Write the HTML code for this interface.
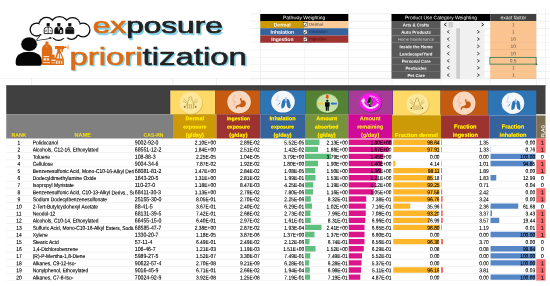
<!DOCTYPE html>
<html lang="en"><head><meta charset="utf-8"><title>exposure prioritization</title>
<style>
html,body{margin:0;padding:0;background:#fff;}
body{width:550px !important;height:286px !important;} #sheet{transform:scale(0.25);transform-origin:0 0;filter:blur(1.0px);}
body{overflow:hidden;position:relative;font-family:"Liberation Sans",sans-serif;}
#sheet{position:absolute;left:0;top:0;width:2200px;height:1144px;overflow:hidden;background:#fff;}
#sheet div{position:absolute;white-space:nowrap;overflow:hidden;}
.abs{position:absolute;overflow:visible;}
.c{text-align:center;} .l{text-align:left;} .w{color:#fff;} .b{font-weight:bold;}
.hd span,.pw span,.pw2 span,.cat span,.val span{display:inline-block;transform:rotate(0.15deg);}
.hd{font-size:19.8px;line-height:28.8px;}
.pw{font-size:20px;line-height:30.8px;}
.pw2{font-size:16.8px;line-height:28.4px;} .pw2 span{padding-left:19.2px;}
.cat{font-size:17.2px;line-height:32px;}
.val{font-size:19.6px;line-height:29.2px;color:#4a4a55;}
.colh{text-align:center;font-weight:bold;font-size:20.6px;line-height:32.8px;}
.colh span{transform:rotate(0.15deg);position:absolute;left:0;right:0;bottom:-2.8px;text-shadow:0 0 1.4px currentColor;}
.colh i{font-style:normal;}
.colh.big{font-size:22.8px;line-height:33.2px;}
.flagt{left:2153.2px;top:496px;width:37.2px;height:54px;color:#fff;font-weight:bold;font-size:18.4px;line-height:37.2px;writing-mode:vertical-rl;transform:rotate(180.15deg);text-align:left;}
.rh{transform:rotate(0.15deg);top:525.6px;height:28.4px;line-height:28.4px;color:#ffe600;font-weight:bold;font-size:20.6px;}
.d{transform:rotate(0.15deg) scaleY(1.14);height:28.4px;line-height:32.8px;font-size:19.6px;color:#0a0a0a;text-shadow:0 0 1.2px rgba(0,0,0,0.55);}
.d.cs{font-size:20.8px;}
</style></head>
<body><div id="sheet">
<div id="grid" style="left:0;top:0;width:2200px;height:1144px">
<div style="left:1000px;top:53.8px;width:1200px;height:2.8px;background:#ececec;"></div>
<div style="left:1000px;top:82.76px;width:1200px;height:2.8px;background:#ececec;"></div>
<div style="left:1000px;top:111.72px;width:1200px;height:2.8px;background:#ececec;"></div>
<div style="left:1000px;top:140.68px;width:1200px;height:2.8px;background:#ececec;"></div>
<div style="left:1000px;top:169.64px;width:1200px;height:2.8px;background:#ececec;"></div>
<div style="left:1000px;top:198.6px;width:1200px;height:2.8px;background:#ececec;"></div>
<div style="left:1000px;top:227.56px;width:1200px;height:2.8px;background:#ececec;"></div>
<div style="left:1000px;top:256.52px;width:1200px;height:2.8px;background:#ececec;"></div>
<div style="left:1000px;top:285.48px;width:1200px;height:2.8px;background:#ececec;"></div>
<div style="left:1000px;top:314.44px;width:1200px;height:2.8px;background:#ececec;"></div>
<div style="left:0px;top:311.2px;width:2200px;height:2.8px;background:#ececec;"></div>
<div style="left:1039.8px;top:36px;width:2.8px;height:308px;background:#ececec;"></div>
<div style="left:1216.6px;top:36px;width:2.8px;height:308px;background:#ececec;"></div>
<div style="left:1391.8px;top:36px;width:2.8px;height:308px;background:#ececec;"></div>
<div style="left:1566.6px;top:36px;width:2.8px;height:308px;background:#ececec;"></div>
<div style="left:1762.6px;top:36px;width:2.8px;height:308px;background:#ececec;"></div>
<div style="left:1959.4px;top:36px;width:2.8px;height:308px;background:#ececec;"></div>
<div style="left:2143.8px;top:36px;width:2.8px;height:308px;background:#ececec;"></div>
<div style="left:2181px;top:36px;width:2.8px;height:308px;background:#ececec;"></div>
<div style="left:125px;top:312px;width:2.8px;height:32px;background:#ececec;"></div>
<div style="left:689.8px;top:312px;width:2.8px;height:32px;background:#ececec;"></div>
<div style="left:864.2px;top:312px;width:2.8px;height:32px;background:#ececec;"></div>
<div style="left:25.2px;top:581px;width:2157.2px;height:2.8px;background:#eeeeee;"></div>
<div style="left:25.2px;top:609.4px;width:2157.2px;height:2.8px;background:#eeeeee;"></div>
<div style="left:25.2px;top:637.8px;width:2157.2px;height:2.8px;background:#eeeeee;"></div>
<div style="left:25.2px;top:666.2px;width:2157.2px;height:2.8px;background:#eeeeee;"></div>
<div style="left:25.2px;top:694.6px;width:2157.2px;height:2.8px;background:#eeeeee;"></div>
<div style="left:25.2px;top:723px;width:2157.2px;height:2.8px;background:#eeeeee;"></div>
<div style="left:25.2px;top:751.4px;width:2157.2px;height:2.8px;background:#eeeeee;"></div>
<div style="left:25.2px;top:779.8px;width:2157.2px;height:2.8px;background:#eeeeee;"></div>
<div style="left:25.2px;top:808.2px;width:2157.2px;height:2.8px;background:#eeeeee;"></div>
<div style="left:25.2px;top:836.6px;width:2157.2px;height:2.8px;background:#eeeeee;"></div>
<div style="left:25.2px;top:865px;width:2157.2px;height:2.8px;background:#eeeeee;"></div>
<div style="left:25.2px;top:893.4px;width:2157.2px;height:2.8px;background:#eeeeee;"></div>
<div style="left:25.2px;top:921.8px;width:2157.2px;height:2.8px;background:#eeeeee;"></div>
<div style="left:25.2px;top:950.2px;width:2157.2px;height:2.8px;background:#eeeeee;"></div>
<div style="left:25.2px;top:978.6px;width:2157.2px;height:2.8px;background:#eeeeee;"></div>
<div style="left:25.2px;top:1007px;width:2157.2px;height:2.8px;background:#eeeeee;"></div>
<div style="left:25.2px;top:1035.4px;width:2157.2px;height:2.8px;background:#eeeeee;"></div>
<div style="left:25.2px;top:1063.8px;width:2157.2px;height:2.8px;background:#eeeeee;"></div>
<div style="left:25.2px;top:1092.2px;width:2157.2px;height:2.8px;background:#eeeeee;"></div>
<div style="left:25.2px;top:1120.6px;width:2157.2px;height:2.8px;background:#eeeeee;"></div>
</div>
<div style="left:0px;top:0px;width:1000px;height:310.8px;background:#fff;"></div>
<svg class="abs" style="left:0;top:0" width="1000" height="312" viewBox="0 0 250 78">
<g font-family="Liberation Sans, sans-serif" font-size="22.2">
<text x="94.2" y="34.5" textLength="130" lengthAdjust="spacingAndGlyphs" fill="#86d3ea" stroke="#86d3ea" stroke-width="0.7">exposure</text>
<text x="92.8" y="33.3" textLength="130" lengthAdjust="spacingAndGlyphs" fill="#222222" stroke="#222222" stroke-width="0.7"><tspan fill="#dc6b14" stroke="#dc6b14">ex</tspan>posure</text>
</g>
<g font-family="Liberation Sans, sans-serif" font-size="24.6">
<text x="70.8" y="65.8" textLength="177.5" lengthAdjust="spacingAndGlyphs" fill="#86d3ea" stroke="#86d3ea" stroke-width="0.6">prioritization</text>
<text x="69.4" y="64.7" textLength="177.5" lengthAdjust="spacingAndGlyphs" fill="#222222" stroke="#222222" stroke-width="0.6"><tspan fill="#dc6b14" stroke="#dc6b14">priori</tspan>tization</text>
</g>
<!-- thought cloud -->
<circle cx="36.6" cy="29.6" r="7.050000000000001" fill="#0a0a0a"/><circle cx="46.5" cy="25.2" r="8.45" fill="#0a0a0a"/><circle cx="59.5" cy="25.6" r="9.65" fill="#0a0a0a"/><circle cx="72.5" cy="25.4" r="8.45" fill="#0a0a0a"/><circle cx="83.0" cy="30.0" r="7.550000000000001" fill="#0a0a0a"/><circle cx="71.5" cy="33.0" r="6.95" fill="#0a0a0a"/><circle cx="58.5" cy="33.4" r="7.65" fill="#0a0a0a"/><circle cx="46.5" cy="32.2" r="6.95" fill="#0a0a0a"/><path d="M41 35 L51 38 L36.8 40.2 Z" fill="#0a0a0a" stroke="#0a0a0a" stroke-width="1.3" stroke-linejoin="round"/><circle cx="36.6" cy="29.6" r="5.75" fill="#fff"/><circle cx="46.5" cy="25.2" r="7.1499999999999995" fill="#fff"/><circle cx="59.5" cy="25.6" r="8.35" fill="#fff"/><circle cx="72.5" cy="25.4" r="7.1499999999999995" fill="#fff"/><circle cx="83.0" cy="30.0" r="6.25" fill="#fff"/><circle cx="71.5" cy="33.0" r="5.6499999999999995" fill="#fff"/><circle cx="58.5" cy="33.4" r="6.35" fill="#fff"/><circle cx="46.5" cy="32.2" r="5.6499999999999995" fill="#fff"/><path d="M41 35 L51 38 L36.8 40.2 Z" fill="#fff"/><ellipse cx="60" cy="29.5" rx="25" ry="7.5" fill="#fff"/><ellipse cx="60" cy="29.5" rx="18" ry="9" fill="#fff"/>
<circle cx="48.2" cy="24.9" r="1.7" fill="#111"/><rect x="46.6" y="23.2" width="3.2" height="1.1" fill="#111"/><path d="M44.2 33.6 L44.2 29.6 Q44.2 27.4 46.6 27.2 L49.800000000000004 27.2 Q52.2 27.4 52.2 29.6 L52.2 33.6 Z" fill="#fff" stroke="#111" stroke-width="0.9"/><path d="M48.2 27.4 L48.2 33.4 M46.0 29.5 L46.0 32 M50.0 30 L50.800000000000004 31.5" stroke="#111" stroke-width="0.7" fill="none"/><circle cx="58.8" cy="24.9" r="1.7" fill="#111"/><rect x="57.199999999999996" y="23.2" width="3.2" height="1.1" fill="#111"/><path d="M54.8 33.6 L54.8 29.6 Q54.8 27.4 57.199999999999996 27.2 L60.4 27.2 Q62.8 27.4 62.8 29.6 L62.8 33.6 Z" fill="#111" stroke="#111" stroke-width="0.9"/><path d="M57.599999999999994 27.4 L58.8 31.5 L60.0 27.4 Z" fill="#fff"/><path d="M58.8 28 L58.8 33" stroke="#111" stroke-width="0.6"/><rect x="60.0" y="30" width="1.8" height="3" fill="#ddd"/><circle cx="69.8" cy="24.9" r="1.7" fill="#111"/><rect x="68.2" y="23.2" width="3.2" height="1.1" fill="#111"/><path d="M65.8 33.6 L65.8 29.6 Q65.8 27.4 68.2 27.2 L71.39999999999999 27.2 Q73.8 27.4 73.8 29.6 L73.8 33.6 Z" fill="#111" stroke="#111" stroke-width="0.9"/><rect x="66.2" y="28.6" width="7.2" height="0.7" fill="#777"/>
<!-- person -->
<path d="M15.7 63.6 L15.7 61.5 C15.7 55 21 51.7 28.8 51.7 C36.6 51.7 41.9 55 41.9 61.5 L41.9 63.6 Q41.9 65.8 39.7 65.8 L17.9 65.8 Q15.7 65.8 15.7 63.6 Z" fill="#050505"/>
<ellipse cx="29.1" cy="44.2" rx="8.3" ry="7.3" fill="#050505" stroke="#fff" stroke-width="0.7"/>
<!-- products -->
<g fill="#dc6b14">
<rect x="45.4" y="41.5" width="3.1" height="2.9" rx="0.6"/>
<path d="M44.9 44.2 L49 44.2 C50.8 45.4 52.3 47 52.3 49.6 L52.3 65.1 L41.8 65.1 L41.8 49.6 C41.8 47 43.3 45.4 44.9 44.2 Z"/>
<rect x="54.9" y="46" width="9.2" height="3.1" rx="0.7"/>
<rect x="63.8" y="46.5" width="2.6" height="1.5"/>
<path d="M66.8 46.6 L69.2 45.2 M66.9 47.3 L69.4 47.3 M66.8 48 L69.2 49.2" stroke="#dc6b14" stroke-width="0.55" fill="none"/>
<path d="M61.2 49 L63.2 49 L62.6 52.2 L61.6 52.2 Z"/>
<rect x="57.3" y="48.9" width="3.3" height="3.3"/>
<path d="M57 51.9 L60.9 51.9 L63.9 59.5 L63.9 65.1 L54.9 65.1 L54.9 59.5 Z"/>
<rect x="50.5" y="57.5" width="6" height="7.6"/>
<rect x="52" y="54.6" width="2.6" height="3.2"/>
</g>
<g fill="#fff">
<rect x="43.6" y="56" width="5.6" height="1.1" opacity="0.8"/>
<rect x="43.6" y="58.2" width="2.2" height="2.4" opacity="0.85"/>
<rect x="46.6" y="58.2" width="2.6" height="2.4" opacity="0.7"/>
<rect x="43.2" y="62.2" width="6.8" height="0.9" opacity="0.8"/>
<rect x="51.4" y="59.6" width="4.2" height="1.4" opacity="0.8"/>
<rect x="51.4" y="62.4" width="4.2" height="0.9" opacity="0.7"/>
<path d="M58.2 53.6 L59 53.6 L59 58.6 L56.4 58.6 Z" opacity="0.85"/>
<path d="M59.8 53.6 L60.3 53.6 L62.4 58.6 L59.8 58.6 Z" opacity="0.85"/>
<rect x="56" y="60.6" width="1.6" height="3.2" opacity="0.75"/>
<rect x="58.4" y="60.6" width="1.6" height="3.2" opacity="0.75"/>
<rect x="60.8" y="60.6" width="1.6" height="3.2" opacity="0.75"/>
<rect x="46.4" y="46" width="0.9" height="1.2" opacity="0.5"/>
</g>
</svg>
<div class="c w hd" style="left:1040.8px;top:55.6px;width:352px;height:29.2px;background:#000;"><span>Pathway Weighting</span></div>
<div class="c w b pw" style="left:1040.8px;top:84.4px;width:176.8px;height:29.2px;background:#cc9a06;"><span>Dermal</span></div>
<div class="l pw2" style="left:1217.6px;top:84.4px;width:175.2px;height:29.2px;background:#fbcb9a;color:#3a3a3a;"><span>Dermal</span></div>
<svg class="abs" style="left:1211.6px;top:90.4px" width="17.6" height="17.6" viewBox="0 0 44 44"><rect x="2" y="2" width="40" height="40" fill="#fff" stroke="#333" stroke-width="5"/><path d="M10 22 L19 32 L34 10" fill="none" stroke="#111" stroke-width="7"/></svg>
<div class="c w b pw" style="left:1040.8px;top:113.28px;width:176.8px;height:29.2px;background:#37639d;"><span>Inhalation</span></div>
<div class="l pw2" style="left:1217.6px;top:113.28px;width:175.2px;height:29.2px;background:#37639d;color:#1c2f55;"><span>Inhalation</span></div>
<svg class="abs" style="left:1211.6px;top:119.28px" width="17.6" height="17.6" viewBox="0 0 44 44"><rect x="2" y="2" width="40" height="40" fill="#fff" stroke="#333" stroke-width="5"/><path d="M10 22 L19 32 L34 10" fill="none" stroke="#111" stroke-width="7"/></svg>
<div class="c w b pw" style="left:1040.8px;top:142.16px;width:176.8px;height:29.2px;background:#9c3330;"><span>Ingestion</span></div>
<div class="l pw2" style="left:1217.6px;top:142.16px;width:175.2px;height:29.2px;background:#9c3330;color:#4a1010;"><span>Ingestion</span></div>
<svg class="abs" style="left:1211.6px;top:148.16px" width="17.6" height="17.6" viewBox="0 0 44 44"><rect x="2" y="2" width="40" height="40" fill="#fff" stroke="#333" stroke-width="5"/><path d="M10 22 L19 32 L34 10" fill="none" stroke="#111" stroke-width="7"/></svg>
<div class="c w hd" style="left:1566.4px;top:55.6px;width:394.8px;height:28.8px;background:#000;"><span>Product Use Category Weighting</span></div>
<div class="c w hd" style="left:1961.2px;top:55.6px;width:183.6px;height:28.8px;background:#404040;"><span>exact factor</span></div>
<div style="left:1762.4px;top:84.4px;width:176px;height:230.8px;background:#f0f0f0;"></div>
<div style="left:1825.2px;top:113.2px;width:14.4px;height:202px;background:#cdcdcd;"></div>
<div style="left:1794.4px;top:87.6px;width:17.2px;height:22.4px;background:#cdcdcd;"></div>
<div class="c w cat b" style="left:1566.4px;top:84.4px;width:196px;height:29.2px;background:#595959;"><span>Arts &amp; Crafts</span></div>
<div class="c val" style="left:1961.2px;top:84.4px;width:183.6px;height:29.2px;background:#fac491;box-shadow:inset 0 -1.6px 0 #e8b27f;"><span>1</span></div>
<svg class="abs" style="left:1760px;top:84.4px" width="184" height="29.2" viewBox="440 21.10 46 7.3"><path d="M446.40 23.20 L444.20 24.70 L446.40 26.20 M481.60 23.20 L483.80 24.70 L481.60 26.20" fill="none" stroke="#333" stroke-width="1.0"/></svg>
<div class="c w cat b" style="left:1566.4px;top:113.24px;width:196px;height:29.2px;background:#595959;"><span>Auto Products</span></div>
<div class="c val" style="left:1961.2px;top:113.24px;width:183.6px;height:29.2px;background:#fac491;box-shadow:inset 0 -1.6px 0 #e8b27f;"><span>1</span></div>
<svg class="abs" style="left:1760px;top:113.24px" width="184" height="29.2" viewBox="440 28.31 46 7.3"><path d="M449.40 30.41 L447.20 31.91 L449.40 33.41 M477.20 30.41 L479.40 31.91 L477.20 33.41" fill="none" stroke="#555" stroke-width="1.0"/></svg>
<div class="c w cat" style="left:1566.4px;top:142.08px;width:196px;height:29.2px;background:#595959;color:#d0d0d0;font-size:16.6px;"><span>Home Maintenance</span></div>
<div class="c val" style="left:1961.2px;top:142.08px;width:183.6px;height:29.2px;background:#fac491;box-shadow:inset 0 -1.6px 0 #e8b27f;"><span>10</span></div>
<svg class="abs" style="left:1760px;top:142.08px" width="184" height="29.2" viewBox="440 35.52 46 7.3"><path d="M449.40 37.62 L447.20 39.12 L449.40 40.62 M477.20 37.62 L479.40 39.12 L477.20 40.62" fill="none" stroke="#555" stroke-width="1.0"/></svg>
<div class="c w cat b" style="left:1566.4px;top:170.92px;width:196px;height:29.2px;background:#595959;"><span>Inside the Home</span></div>
<div class="c val" style="left:1961.2px;top:170.92px;width:183.6px;height:29.2px;background:#fac491;box-shadow:inset 0 -1.6px 0 #e8b27f;"><span>10</span></div>
<svg class="abs" style="left:1760px;top:170.92px" width="184" height="29.2" viewBox="440 42.73 46 7.3"><path d="M449.40 44.83 L447.20 46.33 L449.40 47.83 M477.20 44.83 L479.40 46.33 L477.20 47.83" fill="none" stroke="#555" stroke-width="1.0"/></svg>
<div class="c w cat b" style="left:1566.4px;top:199.76px;width:196px;height:29.2px;background:#595959;"><span>Landscape/Yard</span></div>
<div class="c val" style="left:1961.2px;top:199.76px;width:183.6px;height:29.2px;background:#fac491;box-shadow:inset 0 -1.6px 0 #e8b27f;"><span>10</span></div>
<svg class="abs" style="left:1760px;top:199.76px" width="184" height="29.2" viewBox="440 49.94 46 7.3"><path d="M449.40 52.04 L447.20 53.54 L449.40 55.04 M477.20 52.04 L479.40 53.54 L477.20 55.04" fill="none" stroke="#555" stroke-width="1.0"/></svg>
<div class="c w cat b" style="left:1566.4px;top:228.6px;width:196px;height:29.2px;background:#595959;"><span>Personal Care</span></div>
<div class="c val" style="left:1961.2px;top:228.6px;width:183.6px;height:29.2px;background:#fac491;box-shadow:inset 0 -1.6px 0 #e8b27f;"><span>0.5</span></div>
<svg class="abs" style="left:1760px;top:228.6px" width="184" height="29.2" viewBox="440 57.15 46 7.3"><path d="M449.40 59.25 L447.20 60.75 L449.40 62.25 M477.20 59.25 L479.40 60.75 L477.20 62.25" fill="none" stroke="#555" stroke-width="1.0"/></svg>
<div class="c w cat b" style="left:1566.4px;top:257.44px;width:196px;height:29.2px;background:#595959;"><span>Pesticides</span></div>
<div class="c val" style="left:1961.2px;top:257.44px;width:183.6px;height:29.2px;background:#fac491;box-shadow:inset 0 -1.6px 0 #e8b27f;"><span>1</span></div>
<svg class="abs" style="left:1760px;top:257.44px" width="184" height="29.2" viewBox="440 64.36 46 7.3"><path d="M449.40 66.46 L447.20 67.96 L449.40 69.46 M477.20 66.46 L479.40 67.96 L477.20 69.46" fill="none" stroke="#555" stroke-width="1.0"/></svg>
<div class="c w cat b" style="left:1566.4px;top:286.28px;width:196px;height:29.2px;background:#595959;"><span>Pet Care</span></div>
<div class="c val" style="left:1961.2px;top:286.28px;width:183.6px;height:29.2px;background:#fac491;box-shadow:inset 0 -1.6px 0 #e8b27f;"><span>1</span></div>
<svg class="abs" style="left:1760px;top:286.28px" width="184" height="29.2" viewBox="440 71.57 46 7.3"><path d="M449.40 73.67 L447.20 75.17 L449.40 76.67 M477.20 73.67 L479.40 75.17 L477.20 76.67" fill="none" stroke="#555" stroke-width="1.0"/></svg>
<div style="left:1958.4px;top:228px;width:188px;height:29.6px;background:transparent;border:3.2px solid #217346;box-sizing:border-box;"></div>
<div style="left:2142.8px;top:254px;width:6px;height:6px;background:#217346;"></div>
<div style="left:25.2px;top:342.4px;width:2157.2px;height:114.8px;background:#404040;border-top:3.2px solid #2e2e2e;box-sizing:border-box;"></div>
<div style="left:25.2px;top:456.8px;width:666.4px;height:97.2px;background:#808080;"></div>
<div style="left:679.6px;top:361.6px;width:181.6px;height:95.2px;background:#ffd966;"></div>
<div style="left:861.2px;top:361.6px;width:179.6px;height:95.2px;background:#c55a11;"></div>
<div style="left:1040.8px;top:361.6px;width:181.2px;height:95.2px;background:#2e75b6;"></div>
<div style="left:1222px;top:361.6px;width:172.8px;height:95.6px;background:#548235;"></div>
<div style="left:1394.8px;top:361.6px;width:176.8px;height:95.6px;background:#a63c98;"></div>
<div style="left:1571.6px;top:361.6px;width:190.4px;height:99.6px;background:#ffd966;"></div>
<div style="left:1762px;top:361.6px;width:190.8px;height:99.6px;background:#c55a11;"></div>
<div style="left:1952.8px;top:361.6px;width:192.4px;height:100px;background:#2e75b6;"></div>
<div style="left:678.4px;top:360.8px;width:2.4px;height:96px;background:#2b3a67;"></div>
<div style="left:1393.6px;top:360.8px;width:2.4px;height:96px;background:#3a3f7a;"></div>
<div style="left:1570px;top:360.8px;width:2.4px;height:98px;background:#3a3f7a;"></div>
<div class="colh " style="left:691.6px;top:456.8px;width:174px;height:97.2px;background:#cc9a06;color:#ffe600;"><span><i style="font-size:21.8px">Dermal</i><br><i style="font-size:20.8px">exposure</i><br><i style="font-size:22.2px">(g/day)</i></span></div>
<div class="colh " style="left:865.6px;top:456.8px;width:175.6px;height:97.2px;background:#9c3330;color:#ffe600;"><span><i style="font-size:20.8px">Ingestion</i><br><i style="font-size:20.8px">exposure</i><br><i style="font-size:22.2px">(g/day)</i></span></div>
<div class="colh " style="left:1041.2px;top:456.8px;width:178.4px;height:97.2px;background:#37639d;color:#ffe600;"><span><i style="font-size:22px">Inhalation</i><br><i style="font-size:20.8px">exposure</i><br><i style="font-size:22.2px">(g/day)</i></span></div>
<div class="colh " style="left:1219.6px;top:457.2px;width:173.2px;height:96.8px;background:#76923c;color:#ffe600;"><span><i style="font-size:22px">Amount</i><br><i style="font-size:21px">absorbed</i><br><i style="font-size:22.2px">(g/day)</i></span></div>
<div class="colh " style="left:1392.8px;top:457.2px;width:175.6px;height:96.8px;background:#cf0a96;color:#ffc83c;"><span><i style="font-size:22px">Amount</i><br><i style="font-size:21.8px">remaining</i><br><i style="font-size:22.2px">(g/day)</i></span></div>
<div class="colh big" style="left:1568.4px;top:461.2px;width:195.6px;height:92.8px;background:#cc9a06;color:#ffe600;"><span>Fraction dermal</span></div>
<div class="colh big" style="left:1764px;top:461.2px;width:194.8px;height:92.8px;background:#9c3330;color:#ffe600;"><span>Fraction<br>ingestion</span></div>
<div class="colh big" style="left:1958.8px;top:461.6px;width:186.4px;height:92.4px;background:#37639d;color:#ffe600;"><span>Fraction<br>inhalation</span></div>
<div style="left:2145.2px;top:461.6px;width:37.2px;height:92.4px;background:#7d6e50;"></div>
<div class="flagt">FLAG</div>
<div class="rh" style="left:25.2px;width:101.2px;text-align:center">RANK</div>
<div class="rh" style="left:126.4px;width:410.4px;text-align:center;font-size:22.6px">NAME</div>
<div class="rh" style="left:536px;width:118.4px;text-align:right">CAS-RN</div>
<svg class="abs" style="left:0;top:340px" width="2200" height="128" viewBox="0 85 550 32"><ellipse cx="191.3" cy="103.3" rx="11.5" ry="11.2" fill="#c8a84a"/><ellipse cx="190.8" cy="102.8" rx="11.5" ry="11.2" fill="#fce898" stroke="#f1d77c" stroke-width="0.5"/><g fill="none" stroke="#9a8438" stroke-width="0.55" stroke-linecap="round"><path d="M187.4 108.39999999999999 L187.4 103.39999999999999 Q187.60000000000002 100.8 189.10000000000002 100.0 Q188.5 98.6 189.3 97.39999999999999 Q190.4 96.0 191.5 97.39999999999999 Q192.3 98.6 191.70000000000002 100.0 Q193.20000000000002 100.8 193.4 103.39999999999999 L193.4 108.39999999999999 M189.4 104.39999999999999 L189.4 108.39999999999999 M191.4 104.39999999999999 L191.4 108.39999999999999"/><path d="M184.20000000000002 98.8 L186.60000000000002 101.6 M183.4 101.2 L186.4 103.0 M196.60000000000002 98.8 L194.20000000000002 101.6 M197.4 101.2 L194.4 103.0 M184.8 106.8 L187.20000000000002 103.8 M196.0 106.8 L193.60000000000002 103.8" stroke-width="0.45"/></g><circle cx="184.70000000000002" cy="107.1" r="0.75" fill="#5a4420"/><circle cx="195.70000000000002" cy="107.1" r="0.75" fill="#5a4420"/>
<ellipse cx="239.5" cy="102.4" rx="11.8" ry="11.2" fill="#a8490c"/><ellipse cx="239.1" cy="102.0" rx="11.8" ry="11.2" fill="#fad8c0"/><path d="M240.7 97.8 Q242.29999999999998 98.6 241.5 100.6 Q243.5 99.4 245.29999999999998 101.4 Q246.7 104.2 244.5 106.4 Q241.7 107.8 239.1 106.6 Q237.5 106.2 236.9 107.8 Q236.7 109.0 235.7 108.6 Q235.1 106.2 236.9 105.2 Q239.7 104.6 240.9 103.2 Q241.1 101.4 240.1 99.8 Q239.5 98.4 240.7 97.8 Z" fill="#c85a12"/><path d="M234.5 94.6 Q233.7 97.0 233.29999999999998 99.0 L232.5 100.6 L233.5 101.0 M233.29999999999998 102.4 L234.29999999999998 102.6" fill="none" stroke="#e5a77f" stroke-width="0.45"/><circle cx="234.9" cy="101.2" r="0.5" fill="#d98a55"/><circle cx="235.9" cy="102.6" r="0.45" fill="#d98a55"/><circle cx="234.1" cy="104.0" r="0.5" fill="#d98a55"/><circle cx="233.5" cy="105.2" r="0.4" fill="#d98a55"/>
<ellipse cx="283.4" cy="102.10000000000001" rx="11.8" ry="10.9" fill="#235f99"/><ellipse cx="283.0" cy="101.7" rx="11.8" ry="10.9" fill="#f4f8fc"/><path d="M284.7 99.10000000000001 Q283.4 98.3 282.4 100.7 Q280.8 104.7 281.4 108.3 Q283.0 108.7 284.4 107.10000000000001 Q285.2 105.7 285.2 102.7 Z" fill="#2e74b5"/><path d="M287.1 99.10000000000001 Q288.4 98.3 289.4 100.7 Q291.0 104.7 290.4 108.3 Q288.8 108.7 287.4 107.10000000000001 Q286.6 105.7 286.6 102.7 Z" fill="#2e74b5"/><path d="M285.9 97.3 L285.9 102.3 M285.9 101.3 L284.6 103.3 M285.9 101.3 L287.2 103.3" stroke="#2e74b5" stroke-width="0.7" fill="none"/><path d="M278.4 94.7 Q277.8 96.7 277.4 98.5 L276.6 100.3 L277.8 100.7 M277.8 100.7 Q279.4 101.10000000000001 280.6 100.10000000000001" fill="none" stroke="#8fb3d8" stroke-width="0.45"/><circle cx="279.6" cy="103.3" r="0.6" fill="#2e74b5"/><circle cx="278.2" cy="104.3" r="0.5" fill="#2e74b5"/><circle cx="277.0" cy="105.3" r="0.4" fill="#6b9bd0"/><circle cx="279.0" cy="106.5" r="0.35" fill="#6b9bd0"/><circle cx="280.6" cy="101.9" r="0.4" fill="#6b9bd0"/>
<ellipse cx="327.7" cy="103.80000000000001" rx="11.3" ry="9.9" fill="#3a5f22"/><ellipse cx="327.4" cy="103.4" rx="11.0" ry="9.6" fill="#c6e1a4" stroke="#6f9a4c" stroke-width="0.5"/><circle cx="327.29999999999995" cy="100.80000000000001" r="1.15" fill="#0a0a0a"/><path d="M325.0 102.30000000000001 L329.59999999999997 102.30000000000001 L329.59999999999997 106.4 L328.79999999999995 106.4 L328.79999999999995 110.80000000000001 L327.5 110.80000000000001 L327.5 107.0 L327.09999999999997 107.0 L327.09999999999997 110.80000000000001 L325.79999999999995 110.80000000000001 L325.79999999999995 106.4 L325.0 106.4 Z" fill="#0a0a0a"/><path d="M326.2 94.7 L328.4 94.7 L328.59999999999997 97.4 L329.09999999999997 97.4 L327.29999999999995 99.0 L325.5 97.4 L326.0 97.4 Z" fill="#de4f1c"/><path d="M317.5 102.7 L321.79999999999995 102.7 L321.79999999999995 102.0 L323.9 103.60000000000001 L321.79999999999995 105.2 L321.79999999999995 104.5 L317.5 104.5 Z" fill="#ffc83a"/><path d="M336.9 102.7 L332.59999999999997 102.7 L332.59999999999997 102.0 L330.5 103.60000000000001 L332.59999999999997 105.2 L332.59999999999997 104.5 L336.9 104.5 Z" fill="#2a6fd0"/>
<ellipse cx="370.79999999999995" cy="102.9" rx="11.3" ry="9.700000000000001" fill="#6e2468"/><ellipse cx="370.4" cy="102.4" rx="11.0" ry="9.4" fill="#fb16ee" stroke="#d62cc8" stroke-width="0.5"/><path d="M362.97 100.64 A7.8 6.6 0 0 0 378.07 103.48" fill="none" stroke="#eadfea" stroke-width="2.2"/><path d="M378.02 101.98 A7.8 6.6 0 0 0 368.95 96.40" fill="none" stroke="#f4dcf0" stroke-width="1.7" stroke-dasharray="1.1 0.9"/><path d="M360.57 101.54 L363.77 97.44 L365.57 101.64 Z" fill="#eadfea"/><path d="M368.79999999999995 97.80000000000001 L370.79999999999995 97.2 L371.4 99.4 L372.59999999999997 101.80000000000001 L371.79999999999995 104.2 L371.2 106.80000000000001 L369.0 107.0 L368.79999999999995 104.4 L367.2 102.2 L368.4 99.80000000000001 Z" fill="#101010"/><path d="M370.59999999999997 97.80000000000001 L372.09999999999997 101.60000000000001 L371.2 106.2 L370.09999999999997 103.4 Z" fill="#35a02c"/><circle cx="369.2" cy="103.2" r="0.8" fill="#cfe8c6"/><circle cx="371.0" cy="105.0" r="0.6" fill="#cfe8c6"/>
<ellipse cx="418.0" cy="104.5" rx="11.4" ry="10.7" fill="#c8a84a"/><ellipse cx="417.5" cy="104.0" rx="11.4" ry="10.7" fill="#fce898" stroke="#f1d77c" stroke-width="0.5"/><g fill="none" stroke="#9a8438" stroke-width="0.55" stroke-linecap="round"><path d="M414.1 109.6 L414.1 104.6 Q414.3 102.0 415.8 101.2 Q415.2 99.8 416.0 98.6 Q417.1 97.2 418.2 98.6 Q419.0 99.8 418.4 101.2 Q419.9 102.0 420.1 104.6 L420.1 109.6 M416.1 105.6 L416.1 109.6 M418.1 105.6 L418.1 109.6"/><path d="M410.9 100.0 L413.3 102.8 M410.1 102.4 L413.1 104.2 M423.3 100.0 L420.9 102.8 M424.1 102.4 L421.1 104.2 M411.5 108.0 L413.9 105.0 M422.7 108.0 L420.3 105.0" stroke-width="0.45"/></g><circle cx="411.4" cy="108.3" r="0.75" fill="#5a4420"/><circle cx="422.4" cy="108.3" r="0.75" fill="#5a4420"/>
<ellipse cx="464.5" cy="103.60000000000001" rx="11.4" ry="11.6" fill="#a8490c"/><ellipse cx="464.1" cy="103.2" rx="11.4" ry="11.6" fill="#fad8c0"/><path d="M465.70000000000005 99.0 Q467.3 99.8 466.5 101.8 Q468.5 100.60000000000001 470.3 102.60000000000001 Q471.70000000000005 105.4 469.5 107.60000000000001 Q466.70000000000005 109.0 464.1 107.8 Q462.5 107.4 461.90000000000003 109.0 Q461.70000000000005 110.2 460.70000000000005 109.8 Q460.1 107.4 461.90000000000003 106.4 Q464.70000000000005 105.8 465.90000000000003 104.4 Q466.1 102.60000000000001 465.1 101.0 Q464.5 99.60000000000001 465.70000000000005 99.0 Z" fill="#c85a12"/><path d="M459.5 95.8 Q458.70000000000005 98.2 458.3 100.2 L457.5 101.8 L458.5 102.2 M458.3 103.60000000000001 L459.3 103.8" fill="none" stroke="#e5a77f" stroke-width="0.45"/><circle cx="459.90000000000003" cy="102.4" r="0.5" fill="#d98a55"/><circle cx="460.90000000000003" cy="103.8" r="0.45" fill="#d98a55"/><circle cx="459.1" cy="105.2" r="0.5" fill="#d98a55"/><circle cx="458.5" cy="106.4" r="0.4" fill="#d98a55"/>
<ellipse cx="513.4" cy="103.60000000000001" rx="11.3" ry="10.8" fill="#235f99"/><ellipse cx="513.0" cy="103.2" rx="11.3" ry="10.8" fill="#f4f8fc"/><path d="M514.7 100.60000000000001 Q513.4 99.8 512.4 102.2 Q510.8 106.2 511.4 109.8 Q513.0 110.2 514.4 108.60000000000001 Q515.2 107.2 515.2 104.2 Z" fill="#2e74b5"/><path d="M517.1 100.60000000000001 Q518.4 99.8 519.4 102.2 Q521.0 106.2 520.4 109.8 Q518.8 110.2 517.4 108.60000000000001 Q516.6 107.2 516.6 104.2 Z" fill="#2e74b5"/><path d="M515.9 98.8 L515.9 103.8 M515.9 102.8 L514.6 104.8 M515.9 102.8 L517.2 104.8" stroke="#2e74b5" stroke-width="0.7" fill="none"/><path d="M508.4 96.2 Q507.8 98.2 507.4 100.0 L506.6 101.8 L507.8 102.2 M507.8 102.2 Q509.4 102.60000000000001 510.6 101.60000000000001" fill="none" stroke="#8fb3d8" stroke-width="0.45"/><circle cx="509.6" cy="104.8" r="0.6" fill="#2e74b5"/><circle cx="508.2" cy="105.8" r="0.5" fill="#2e74b5"/><circle cx="507.0" cy="106.8" r="0.4" fill="#6b9bd0"/><circle cx="509.0" cy="108.0" r="0.35" fill="#6b9bd0"/><circle cx="510.6" cy="103.4" r="0.4" fill="#6b9bd0"/></svg>
<div style="left:1220px;top:558.2px;width:58.36px;height:21.4px;background:#5fbf7d;"></div>
<div style="left:1394.8px;top:558.2px;width:172.4px;height:21.4px;background:#dc148c;"></div>
<div style="left:1572.8px;top:558.2px;width:187.04px;height:21.4px;background:#ffb628;"></div>
<div style="left:1764.4px;top:558.2px;width:2.6px;height:21.4px;background:#ff676b;"></div>
<div style="left:2144.8px;top:554px;width:37.6px;height:28.6px;background:#f8696b;"></div>
<div class="d" style="top:554px;left:25.2px;width:101.2px;text-align:center;">1</div>
<div class="d" style="top:554px;left:130.8px;width:405.2px;text-align:left;">Polidocanol</div>
<div class="d cs" style="top:554px;left:539.2px;width:152.4px;text-align:left;">9002-92-0</div>
<div class="d" style="top:554px;left:691.6px;width:171.6px;text-align:right;">2.10E+00</div>
<div class="d" style="top:554px;left:865.6px;width:173.2px;text-align:right;">2.89E-02</div>
<div class="d" style="top:554px;left:1041.2px;width:176px;text-align:right;">5.52E-05</div>
<div class="d" style="top:554px;left:1219.6px;width:170.8px;text-align:right;">2.13E+00</div>
<div class="d" style="top:554px;left:1392.8px;width:173.2px;text-align:right;">1.80E+00</div>
<div class="d" style="top:554px;left:1568.4px;width:190.4px;text-align:right;">98.64</div>
<div class="d" style="top:554px;left:1764px;width:191.2px;text-align:right;">1.35</div>
<div class="d" style="top:554px;left:1958.8px;width:181.6px;text-align:right;">0.00</div>
<div class="d" style="top:554px;left:2151.2px;width:37.2px;text-align:center;">1</div>
<div style="left:1220px;top:586.6px;width:51.52px;height:21.4px;background:#5fbf7d;"></div>
<div style="left:1394.8px;top:586.6px;width:159.96px;height:21.4px;background:#dc148c;"></div>
<div style="left:1572.8px;top:586.6px;width:185.64px;height:21.4px;background:#ffb628;"></div>
<div style="left:1764.4px;top:586.6px;width:2.56px;height:21.4px;background:#ff676b;"></div>
<div style="left:1961.6px;top:586.6px;width:1.36px;height:21.4px;background:#5686c6;"></div>
<div style="left:2144.8px;top:582.4px;width:37.6px;height:28.6px;background:#f8696b;"></div>
<div class="d" style="top:582.4px;left:25.2px;width:101.2px;text-align:center;">2</div>
<div class="d" style="top:582.4px;left:130.8px;width:405.2px;text-align:left;">Alcohols, C12-16, Ethoxylated</div>
<div class="d cs" style="top:582.4px;left:539.2px;width:152.4px;text-align:left;">68551-12-2</div>
<div class="d" style="top:582.4px;left:691.6px;width:171.6px;text-align:right;">1.84E+00</div>
<div class="d" style="top:582.4px;left:865.6px;width:173.2px;text-align:right;">2.51E-02</div>
<div class="d" style="top:582.4px;left:1041.2px;width:176px;text-align:right;">1.42E-02</div>
<div class="d" style="top:582.4px;left:1219.6px;width:170.8px;text-align:right;">1.88E+00</div>
<div class="d" style="top:582.4px;left:1392.8px;width:173.2px;text-align:right;">1.67E+00</div>
<div class="d" style="top:582.4px;left:1568.4px;width:190.4px;text-align:right;">97.91</div>
<div class="d" style="top:582.4px;left:1764px;width:191.2px;text-align:right;">1.33</div>
<div class="d" style="top:582.4px;left:1958.8px;width:181.6px;text-align:right;">0.76</div>
<div class="d" style="top:582.4px;left:2151.2px;width:37.2px;text-align:center;">1</div>
<div style="left:1220px;top:615px;width:103.84px;height:21.4px;background:#5fbf7d;"></div>
<div style="left:1394.8px;top:615px;width:138.88px;height:21.4px;background:#dc148c;"></div>
<div style="left:1961.6px;top:615px;width:180.8px;height:21.4px;background:#5686c6;"></div>
<div class="d" style="top:610.8px;left:25.2px;width:101.2px;text-align:center;">3</div>
<div class="d" style="top:610.8px;left:130.8px;width:405.2px;text-align:left;">Toluene</div>
<div class="d cs" style="top:610.8px;left:539.2px;width:152.4px;text-align:left;">108-88-3</div>
<div class="d" style="top:610.8px;left:691.6px;width:171.6px;text-align:right;">2.25E-05</div>
<div class="d" style="top:610.8px;left:865.6px;width:173.2px;text-align:right;">1.04E-05</div>
<div class="d" style="top:610.8px;left:1041.2px;width:176px;text-align:right;">3.79E+00</div>
<div class="d" style="top:610.8px;left:1219.6px;width:170.8px;text-align:right;">3.79E+00</div>
<div class="d" style="top:610.8px;left:1392.8px;width:173.2px;text-align:right;">1.45E+00</div>
<div class="d" style="top:610.8px;left:1568.4px;width:190.4px;text-align:right;">0.00</div>
<div class="d" style="top:610.8px;left:1764px;width:191.2px;text-align:right;">0.00</div>
<div class="d" style="top:610.8px;left:1958.8px;width:181.6px;text-align:right;">100.00</div>
<div class="d" style="top:610.8px;left:2151.2px;width:37.2px;text-align:center;">0</div>
<div style="left:1220px;top:643.4px;width:52.04px;height:21.4px;background:#5fbf7d;"></div>
<div style="left:1394.8px;top:643.4px;width:134.08px;height:21.4px;background:#dc148c;"></div>
<div style="left:1572.8px;top:643.4px;width:7.84px;height:21.4px;background:#ffb628;"></div>
<div style="left:1764.4px;top:643.4px;width:1.92px;height:21.4px;background:#ff676b;"></div>
<div style="left:1961.6px;top:643.4px;width:171.48px;height:21.4px;background:#5686c6;"></div>
<div style="left:2144.8px;top:639.2px;width:37.6px;height:28.6px;background:#f8696b;"></div>
<div class="d" style="top:639.2px;left:25.2px;width:101.2px;text-align:center;">4</div>
<div class="d" style="top:639.2px;left:130.8px;width:405.2px;text-align:left;">Cellulose</div>
<div class="d cs" style="top:639.2px;left:539.2px;width:152.4px;text-align:left;">9004-34-6</div>
<div class="d" style="top:639.2px;left:691.6px;width:171.6px;text-align:right;">7.87E-02</div>
<div class="d" style="top:639.2px;left:865.6px;width:173.2px;text-align:right;">1.92E-02</div>
<div class="d" style="top:639.2px;left:1041.2px;width:176px;text-align:right;">1.80E+00</div>
<div class="d" style="top:639.2px;left:1219.6px;width:170.8px;text-align:right;">1.90E+00</div>
<div class="d" style="top:639.2px;left:1392.8px;width:173.2px;text-align:right;">1.40E+00</div>
<div class="d" style="top:639.2px;left:1568.4px;width:190.4px;text-align:right;">4.14</div>
<div class="d" style="top:639.2px;left:1764px;width:191.2px;text-align:right;">1.01</div>
<div class="d" style="top:639.2px;left:1958.8px;width:181.6px;text-align:right;">94.85</div>
<div class="d" style="top:639.2px;left:2151.2px;width:37.2px;text-align:center;">1</div>
<div style="left:1220px;top:671.8px;width:41.08px;height:21.4px;background:#5fbf7d;"></div>
<div style="left:1394.8px;top:671.8px;width:130.24px;height:21.4px;background:#dc148c;"></div>
<div style="left:1572.8px;top:671.8px;width:186px;height:21.4px;background:#ffb628;"></div>
<div style="left:1764.4px;top:671.8px;width:3.64px;height:21.4px;background:#ff676b;"></div>
<div style="left:2144.8px;top:667.6px;width:37.6px;height:28.6px;background:#f8696b;"></div>
<div class="d" style="top:667.6px;left:25.2px;width:101.2px;text-align:center;">5</div>
<div class="d" style="top:667.6px;left:130.8px;width:405.2px;text-align:left;">Benzenesulfonic Acid, Mono-C10-16-Alkyl Derivs.</div>
<div class="d cs" style="top:667.6px;left:539.2px;width:152.4px;text-align:left;">68081-81-2</div>
<div class="d" style="top:667.6px;left:691.6px;width:171.6px;text-align:right;">1.47E+00</div>
<div class="d" style="top:667.6px;left:865.6px;width:173.2px;text-align:right;">2.84E-02</div>
<div class="d" style="top:667.6px;left:1041.2px;width:176px;text-align:right;">1.08E-05</div>
<div class="d" style="top:667.6px;left:1219.6px;width:170.8px;text-align:right;">1.50E+00</div>
<div class="d" style="top:667.6px;left:1392.8px;width:173.2px;text-align:right;">1.36E+00</div>
<div class="d" style="top:667.6px;left:1568.4px;width:190.4px;text-align:right;">98.11</div>
<div class="d" style="top:667.6px;left:1764px;width:191.2px;text-align:right;">1.89</div>
<div class="d" style="top:667.6px;left:1958.8px;width:181.6px;text-align:right;">0.00</div>
<div class="d" style="top:667.6px;left:2151.2px;width:37.2px;text-align:center;">1</div>
<div style="left:1220px;top:700.2px;width:41.92px;height:21.4px;background:#5fbf7d;"></div>
<div style="left:1394.8px;top:700.2px;width:115.88px;height:21.4px;background:#dc148c;"></div>
<div style="left:1572.8px;top:700.2px;width:161.52px;height:21.4px;background:#ffb628;"></div>
<div style="left:1764.4px;top:700.2px;width:3.52px;height:21.4px;background:#ff676b;"></div>
<div style="left:1961.6px;top:700.2px;width:23.48px;height:21.4px;background:#5686c6;"></div>
<div class="d" style="top:696px;left:25.2px;width:101.2px;text-align:center;">6</div>
<div class="d" style="top:696px;left:130.8px;width:405.2px;text-align:left;">Dodecyldimethylamine Oxide</div>
<div class="d cs" style="top:696px;left:539.2px;width:152.4px;text-align:left;">1643-20-5</div>
<div class="d" style="top:696px;left:691.6px;width:171.6px;text-align:right;">1.31E+00</div>
<div class="d" style="top:696px;left:865.6px;width:173.2px;text-align:right;">2.81E-02</div>
<div class="d" style="top:696px;left:1041.2px;width:176px;text-align:right;">1.99E-01</div>
<div class="d" style="top:696px;left:1219.6px;width:170.8px;text-align:right;">1.53E+00</div>
<div class="d" style="top:696px;left:1392.8px;width:173.2px;text-align:right;">1.21E+00</div>
<div class="d" style="top:696px;left:1568.4px;width:190.4px;text-align:right;">85.18</div>
<div class="d" style="top:696px;left:1764px;width:191.2px;text-align:right;">1.83</div>
<div class="d" style="top:696px;left:1958.8px;width:181.6px;text-align:right;">12.99</div>
<div class="d" style="top:696px;left:2151.2px;width:37.2px;text-align:center;">0</div>
<div style="left:1220px;top:728.6px;width:32.6px;height:21.4px;background:#5fbf7d;"></div>
<div style="left:1394.8px;top:728.6px;width:107.28px;height:21.4px;background:#dc148c;"></div>
<div style="left:1572.8px;top:728.6px;width:188.16px;height:21.4px;background:#ffb628;"></div>
<div style="left:1764.4px;top:728.6px;width:1.36px;height:21.4px;background:#ff676b;"></div>
<div class="d" style="top:724.4px;left:25.2px;width:101.2px;text-align:center;">7</div>
<div class="d" style="top:724.4px;left:130.8px;width:405.2px;text-align:left;">Isopropyl Myristate</div>
<div class="d cs" style="top:724.4px;left:539.2px;width:152.4px;text-align:left;">110-27-0</div>
<div class="d" style="top:724.4px;left:691.6px;width:171.6px;text-align:right;">1.18E+00</div>
<div class="d" style="top:724.4px;left:865.6px;width:173.2px;text-align:right;">8.47E-03</div>
<div class="d" style="top:724.4px;left:1041.2px;width:176px;text-align:right;">4.25E-04</div>
<div class="d" style="top:724.4px;left:1219.6px;width:170.8px;text-align:right;">1.19E+00</div>
<div class="d" style="top:724.4px;left:1392.8px;width:173.2px;text-align:right;">1.12E+00</div>
<div class="d" style="top:724.4px;left:1568.4px;width:190.4px;text-align:right;">99.25</div>
<div class="d" style="top:724.4px;left:1764px;width:191.2px;text-align:right;">0.71</div>
<div class="d" style="top:724.4px;left:1958.8px;width:181.6px;text-align:right;">0.04</div>
<div class="d" style="top:724.4px;left:2151.2px;width:37.2px;text-align:center;">0</div>
<div style="left:1220px;top:757px;width:31.8px;height:21.4px;background:#5fbf7d;"></div>
<div style="left:1394.8px;top:757px;width:100.56px;height:21.4px;background:#dc148c;"></div>
<div style="left:1572.8px;top:757px;width:185px;height:21.4px;background:#ffb628;"></div>
<div style="left:1764.4px;top:757px;width:4.64px;height:21.4px;background:#ff676b;"></div>
<div style="left:2144.8px;top:752.8px;width:37.6px;height:28.6px;background:#f8696b;"></div>
<div class="d" style="top:752.8px;left:25.2px;width:101.2px;text-align:center;">8</div>
<div class="d" style="top:752.8px;left:130.8px;width:405.2px;text-align:left;">Benzenesulfonic Acid, C10-13-Alkyl Derivs., Sodium Salt</div>
<div class="d cs" style="top:752.8px;left:539.2px;width:152.4px;text-align:left;">68411-30-3</div>
<div class="d" style="top:752.8px;left:691.6px;width:171.6px;text-align:right;">1.13E+00</div>
<div class="d" style="top:752.8px;left:865.6px;width:173.2px;text-align:right;">2.79E-02</div>
<div class="d" style="top:752.8px;left:1041.2px;width:176px;text-align:right;">7.80E-06</div>
<div class="d" style="top:752.8px;left:1219.6px;width:170.8px;text-align:right;">1.16E+00</div>
<div class="d" style="top:752.8px;left:1392.8px;width:173.2px;text-align:right;">1.05E+00</div>
<div class="d" style="top:752.8px;left:1568.4px;width:190.4px;text-align:right;">97.58</div>
<div class="d" style="top:752.8px;left:1764px;width:191.2px;text-align:right;">2.42</div>
<div class="d" style="top:752.8px;left:1958.8px;width:181.6px;text-align:right;">0.00</div>
<div class="d" style="top:752.8px;left:2151.2px;width:37.2px;text-align:center;">1</div>
<div style="left:1220px;top:785.4px;width:22.8px;height:21.4px;background:#5fbf7d;"></div>
<div style="left:1394.8px;top:785.4px;width:70.68px;height:21.4px;background:#dc148c;"></div>
<div style="left:1572.8px;top:785.4px;width:183.44px;height:21.4px;background:#ffb628;"></div>
<div style="left:1764.4px;top:785.4px;width:6.24px;height:21.4px;background:#ff676b;"></div>
<div style="left:2144.8px;top:781.2px;width:37.6px;height:28.6px;background:#f8696b;"></div>
<div class="d" style="top:781.2px;left:25.2px;width:101.2px;text-align:center;">9</div>
<div class="d" style="top:781.2px;left:130.8px;width:405.2px;text-align:left;">Sodium Dodecylbenzenesulfonate</div>
<div class="d cs" style="top:781.2px;left:539.2px;width:152.4px;text-align:left;">25155-30-0</div>
<div class="d" style="top:781.2px;left:691.6px;width:171.6px;text-align:right;">8.05E-01</div>
<div class="d" style="top:781.2px;left:865.6px;width:173.2px;text-align:right;">2.70E-02</div>
<div class="d" style="top:781.2px;left:1041.2px;width:176px;text-align:right;">2.25E-06</div>
<div class="d" style="top:781.2px;left:1219.6px;width:170.8px;text-align:right;">8.32E-01</div>
<div class="d" style="top:781.2px;left:1392.8px;width:173.2px;text-align:right;">7.38E-01</div>
<div class="d" style="top:781.2px;left:1568.4px;width:190.4px;text-align:right;">96.76</div>
<div class="d" style="top:781.2px;left:1764px;width:191.2px;text-align:right;">3.24</div>
<div class="d" style="top:781.2px;left:1958.8px;width:181.6px;text-align:right;">0.00</div>
<div class="d" style="top:781.2px;left:2151.2px;width:37.2px;text-align:center;">1</div>
<div style="left:1220px;top:813.8px;width:27.96px;height:21.4px;background:#5fbf7d;"></div>
<div style="left:1394.8px;top:813.8px;width:68.56px;height:21.4px;background:#dc148c;"></div>
<div style="left:1572.8px;top:813.8px;width:68.2px;height:21.4px;background:#ffb628;"></div>
<div style="left:1764.4px;top:813.8px;width:4.52px;height:21.4px;background:#ff676b;"></div>
<div style="left:1961.6px;top:813.8px;width:111.52px;height:21.4px;background:#5686c6;"></div>
<div class="d" style="top:809.6px;left:25.2px;width:101.2px;text-align:center;">10</div>
<div class="d" style="top:809.6px;left:130.8px;width:405.2px;text-align:left;">2-Tert-Butylcyclohexyl Acetate</div>
<div class="d cs" style="top:809.6px;left:539.2px;width:152.4px;text-align:left;">88-41-5</div>
<div class="d" style="top:809.6px;left:691.6px;width:171.6px;text-align:right;">3.67E-01</div>
<div class="d" style="top:809.6px;left:865.6px;width:173.2px;text-align:right;">2.40E-02</div>
<div class="d" style="top:809.6px;left:1041.2px;width:176px;text-align:right;">6.29E-01</div>
<div class="d" style="top:809.6px;left:1219.6px;width:170.8px;text-align:right;">1.02E+00</div>
<div class="d" style="top:809.6px;left:1392.8px;width:173.2px;text-align:right;">7.16E-01</div>
<div class="d" style="top:809.6px;left:1568.4px;width:190.4px;text-align:right;">35.96</div>
<div class="d" style="top:809.6px;left:1764px;width:191.2px;text-align:right;">2.36</div>
<div class="d" style="top:809.6px;left:1958.8px;width:181.6px;text-align:right;">61.68</div>
<div class="d" style="top:809.6px;left:2151.2px;width:37.2px;text-align:center;">0</div>
<div style="left:1220px;top:842.2px;width:21.8px;height:21.4px;background:#5fbf7d;"></div>
<div style="left:1394.8px;top:842.2px;width:67.8px;height:21.4px;background:#dc148c;"></div>
<div style="left:1572.8px;top:842.2px;width:176.72px;height:21.4px;background:#ffb628;"></div>
<div style="left:1764.4px;top:842.2px;width:6.48px;height:21.4px;background:#ff676b;"></div>
<div style="left:1961.6px;top:842.2px;width:6.2px;height:21.4px;background:#5686c6;"></div>
<div style="left:2144.8px;top:838px;width:37.6px;height:28.6px;background:#f8696b;"></div>
<div class="d" style="top:838px;left:25.2px;width:101.2px;text-align:center;">11</div>
<div class="d" style="top:838px;left:130.8px;width:405.2px;text-align:left;">Neodol-12</div>
<div class="d cs" style="top:838px;left:539.2px;width:152.4px;text-align:left;">68131-39-5</div>
<div class="d" style="top:838px;left:691.6px;width:171.6px;text-align:right;">7.42E-01</div>
<div class="d" style="top:838px;left:865.6px;width:173.2px;text-align:right;">2.68E-02</div>
<div class="d" style="top:838px;left:1041.2px;width:176px;text-align:right;">2.73E-02</div>
<div class="d" style="top:838px;left:1219.6px;width:170.8px;text-align:right;">7.96E-01</div>
<div class="d" style="top:838px;left:1392.8px;width:173.2px;text-align:right;">7.08E-01</div>
<div class="d" style="top:838px;left:1568.4px;width:190.4px;text-align:right;">93.20</div>
<div class="d" style="top:838px;left:1764px;width:191.2px;text-align:right;">3.37</div>
<div class="d" style="top:838px;left:1958.8px;width:181.6px;text-align:right;">3.43</div>
<div class="d" style="top:838px;left:2151.2px;width:37.2px;text-align:center;">1</div>
<div style="left:1220px;top:870.6px;width:22.76px;height:21.4px;background:#5fbf7d;"></div>
<div style="left:1394.8px;top:870.6px;width:66.68px;height:21.4px;background:#dc148c;"></div>
<div style="left:1572.8px;top:870.6px;width:145.96px;height:21.4px;background:#ffb628;"></div>
<div style="left:1764.4px;top:870.6px;width:6.84px;height:21.4px;background:#ff676b;"></div>
<div style="left:1961.6px;top:870.6px;width:35.16px;height:21.4px;background:#5686c6;"></div>
<div style="left:2144.8px;top:866.4px;width:37.6px;height:28.6px;background:#f8696b;"></div>
<div class="d" style="top:866.4px;left:25.2px;width:101.2px;text-align:center;">12</div>
<div class="d" style="top:866.4px;left:130.8px;width:405.2px;text-align:left;">Alcohols, C10-14, Ethoxylated</div>
<div class="d cs" style="top:866.4px;left:539.2px;width:152.4px;text-align:left;">66455-15-0</div>
<div class="d" style="top:866.4px;left:691.6px;width:171.6px;text-align:right;">6.40E-01</div>
<div class="d" style="top:866.4px;left:865.6px;width:173.2px;text-align:right;">2.97E-02</div>
<div class="d" style="top:866.4px;left:1041.2px;width:176px;text-align:right;">1.61E-01</div>
<div class="d" style="top:866.4px;left:1219.6px;width:170.8px;text-align:right;">8.31E-01</div>
<div class="d" style="top:866.4px;left:1392.8px;width:173.2px;text-align:right;">6.96E-01</div>
<div class="d" style="top:866.4px;left:1568.4px;width:190.4px;text-align:right;">76.99</div>
<div class="d" style="top:866.4px;left:1764px;width:191.2px;text-align:right;">3.57</div>
<div class="d" style="top:866.4px;left:1958.8px;width:181.6px;text-align:right;">19.44</div>
<div class="d" style="top:866.4px;left:2151.2px;width:37.2px;text-align:center;">1</div>
<div style="left:1220px;top:899px;width:66.04px;height:21.4px;background:#5fbf7d;"></div>
<div style="left:1394.8px;top:899px;width:63.68px;height:21.4px;background:#dc148c;"></div>
<div style="left:1572.8px;top:899px;width:187.32px;height:21.4px;background:#ffb628;"></div>
<div style="left:1764.4px;top:899px;width:2.28px;height:21.4px;background:#ff676b;"></div>
<div style="left:2144.8px;top:894.8px;width:37.6px;height:28.6px;background:#f8696b;"></div>
<div class="d" style="top:894.8px;left:25.2px;width:101.2px;text-align:center;">13</div>
<div class="d" style="top:894.8px;left:130.8px;width:405.2px;text-align:left;">Sulfuric Acid, Mono-C10-16-Alkyl Esters, Sodium Salts</div>
<div class="d cs" style="top:894.8px;left:539.2px;width:152.4px;text-align:left;">68585-47-7</div>
<div class="d" style="top:894.8px;left:691.6px;width:171.6px;text-align:right;">2.38E+00</div>
<div class="d" style="top:894.8px;left:865.6px;width:173.2px;text-align:right;">2.87E-02</div>
<div class="d" style="top:894.8px;left:1041.2px;width:176px;text-align:right;">1.93E-04</div>
<div class="d" style="top:894.8px;left:1219.6px;width:170.8px;text-align:right;">2.41E+00</div>
<div class="d" style="top:894.8px;left:1392.8px;width:173.2px;text-align:right;">6.65E-01</div>
<div class="d" style="top:894.8px;left:1568.4px;width:190.4px;text-align:right;">98.80</div>
<div class="d" style="top:894.8px;left:1764px;width:191.2px;text-align:right;">1.19</div>
<div class="d" style="top:894.8px;left:1958.8px;width:181.6px;text-align:right;">0.01</div>
<div class="d" style="top:894.8px;left:2151.2px;width:37.2px;text-align:center;">1</div>
<div style="left:1220px;top:927.4px;width:37.52px;height:21.4px;background:#5fbf7d;"></div>
<div style="left:1394.8px;top:927.4px;width:63.2px;height:21.4px;background:#dc148c;"></div>
<div style="left:1961.6px;top:927.4px;width:180.8px;height:21.4px;background:#5686c6;"></div>
<div style="left:2144.8px;top:923.2px;width:37.6px;height:28.6px;background:#f8696b;"></div>
<div class="d" style="top:923.2px;left:25.2px;width:101.2px;text-align:center;">14</div>
<div class="d" style="top:923.2px;left:130.8px;width:405.2px;text-align:left;">Xylene</div>
<div class="d cs" style="top:923.2px;left:539.2px;width:152.4px;text-align:left;">1330-20-7</div>
<div class="d" style="top:923.2px;left:691.6px;width:171.6px;text-align:right;">1.18E-05</div>
<div class="d" style="top:923.2px;left:865.6px;width:173.2px;text-align:right;">3.87E-06</div>
<div class="d" style="top:923.2px;left:1041.2px;width:176px;text-align:right;">1.37E+00</div>
<div class="d" style="top:923.2px;left:1219.6px;width:170.8px;text-align:right;">1.37E+00</div>
<div class="d" style="top:923.2px;left:1392.8px;width:173.2px;text-align:right;">6.60E-01</div>
<div class="d" style="top:923.2px;left:1568.4px;width:190.4px;text-align:right;">0.00</div>
<div class="d" style="top:923.2px;left:1764px;width:191.2px;text-align:right;">0.00</div>
<div class="d" style="top:923.2px;left:1958.8px;width:181.6px;text-align:right;">100.00</div>
<div class="d" style="top:923.2px;left:2151.2px;width:37.2px;text-align:center;">1</div>
<div style="left:1220px;top:955.8px;width:18.48px;height:21.4px;background:#5fbf7d;"></div>
<div style="left:1394.8px;top:955.8px;width:62.84px;height:21.4px;background:#dc148c;"></div>
<div style="left:1572.8px;top:955.8px;width:182.6px;height:21.4px;background:#ffb628;"></div>
<div style="left:1764.4px;top:955.8px;width:7.12px;height:21.4px;background:#ff676b;"></div>
<div class="d" style="top:951.6px;left:25.2px;width:101.2px;text-align:center;">15</div>
<div class="d" style="top:951.6px;left:130.8px;width:405.2px;text-align:left;">Stearic Acid</div>
<div class="d cs" style="top:951.6px;left:539.2px;width:152.4px;text-align:left;">57-11-4</div>
<div class="d" style="top:951.6px;left:691.6px;width:171.6px;text-align:right;">6.49E-01</div>
<div class="d" style="top:951.6px;left:865.6px;width:173.2px;text-align:right;">2.49E-02</div>
<div class="d" style="top:951.6px;left:1041.2px;width:176px;text-align:right;">2.12E-06</div>
<div class="d" style="top:951.6px;left:1219.6px;width:170.8px;text-align:right;">6.74E-01</div>
<div class="d" style="top:951.6px;left:1392.8px;width:173.2px;text-align:right;">6.56E-01</div>
<div class="d" style="top:951.6px;left:1568.4px;width:190.4px;text-align:right;">96.30</div>
<div class="d" style="top:951.6px;left:1764px;width:191.2px;text-align:right;">3.70</div>
<div class="d" style="top:951.6px;left:1958.8px;width:181.6px;text-align:right;">0.00</div>
<div class="d" style="top:951.6px;left:2151.2px;width:37.2px;text-align:center;">0</div>
<div style="left:1220px;top:984.2px;width:41.64px;height:21.4px;background:#5fbf7d;"></div>
<div style="left:1394.8px;top:984.2px;width:60.24px;height:21.4px;background:#dc148c;"></div>
<div style="left:1961.6px;top:984.2px;width:180.52px;height:21.4px;background:#5686c6;"></div>
<div class="d" style="top:980px;left:25.2px;width:101.2px;text-align:center;">16</div>
<div class="d" style="top:980px;left:130.8px;width:405.2px;text-align:left;">1,4-Dichlorobenzene</div>
<div class="d cs" style="top:980px;left:539.2px;width:152.4px;text-align:left;">106-46-7</div>
<div class="d" style="top:980px;left:691.6px;width:171.6px;text-align:right;">1.21E-03</div>
<div class="d" style="top:980px;left:865.6px;width:173.2px;text-align:right;">1.19E-03</div>
<div class="d" style="top:980px;left:1041.2px;width:176px;text-align:right;">1.51E+00</div>
<div class="d" style="top:980px;left:1219.6px;width:170.8px;text-align:right;">1.52E+00</div>
<div class="d" style="top:980px;left:1392.8px;width:173.2px;text-align:right;">6.29E-01</div>
<div class="d" style="top:980px;left:1568.4px;width:190.4px;text-align:right;">0.08</div>
<div class="d" style="top:980px;left:1764px;width:191.2px;text-align:right;">0.08</div>
<div class="d" style="top:980px;left:1958.8px;width:181.6px;text-align:right;">99.84</div>
<div class="d" style="top:980px;left:2151.2px;width:37.2px;text-align:center;">0</div>
<div style="left:1220px;top:1012.6px;width:20.52px;height:21.4px;background:#5fbf7d;"></div>
<div style="left:1394.8px;top:1012.6px;width:52.88px;height:21.4px;background:#dc148c;"></div>
<div style="left:1961.6px;top:1012.6px;width:180.8px;height:21.4px;background:#5686c6;"></div>
<div class="d" style="top:1008.4px;left:25.2px;width:101.2px;text-align:center;">17</div>
<div class="d" style="top:1008.4px;left:130.8px;width:405.2px;text-align:left;">(R)-P-Mentha-1,8-Diene</div>
<div class="d cs" style="top:1008.4px;left:539.2px;width:152.4px;text-align:left;">5989-27-5</div>
<div class="d" style="top:1008.4px;left:691.6px;width:171.6px;text-align:right;">1.52E-07</div>
<div class="d" style="top:1008.4px;left:865.6px;width:173.2px;text-align:right;">3.30E-07</div>
<div class="d" style="top:1008.4px;left:1041.2px;width:176px;text-align:right;">7.49E-01</div>
<div class="d" style="top:1008.4px;left:1219.6px;width:170.8px;text-align:right;">7.49E-01</div>
<div class="d" style="top:1008.4px;left:1392.8px;width:173.2px;text-align:right;">5.52E-01</div>
<div class="d" style="top:1008.4px;left:1568.4px;width:190.4px;text-align:right;">0.00</div>
<div class="d" style="top:1008.4px;left:1764px;width:191.2px;text-align:right;">0.00</div>
<div class="d" style="top:1008.4px;left:1958.8px;width:181.6px;text-align:right;">100.00</div>
<div class="d" style="top:1008.4px;left:2151.2px;width:37.2px;text-align:center;">0</div>
<div style="left:1220px;top:1041px;width:17.2px;height:21.4px;background:#5fbf7d;"></div>
<div style="left:1394.8px;top:1041px;width:51.44px;height:21.4px;background:#dc148c;"></div>
<div style="left:1961.6px;top:1041px;width:180.8px;height:21.4px;background:#5686c6;"></div>
<div style="left:2144.8px;top:1036.8px;width:37.6px;height:28.6px;background:#f8696b;"></div>
<div class="d" style="top:1036.8px;left:25.2px;width:101.2px;text-align:center;">18</div>
<div class="d" style="top:1036.8px;left:130.8px;width:405.2px;text-align:left;">Alkanes, C9-12-Iso-</div>
<div class="d cs" style="top:1036.8px;left:539.2px;width:152.4px;text-align:left;">90622-57-4</div>
<div class="d" style="top:1036.8px;left:691.6px;width:171.6px;text-align:right;">2.70E-08</div>
<div class="d" style="top:1036.8px;left:865.6px;width:173.2px;text-align:right;">9.21E-09</div>
<div class="d" style="top:1036.8px;left:1041.2px;width:176px;text-align:right;">6.28E-01</div>
<div class="d" style="top:1036.8px;left:1219.6px;width:170.8px;text-align:right;">6.28E-01</div>
<div class="d" style="top:1036.8px;left:1392.8px;width:173.2px;text-align:right;">5.37E-01</div>
<div class="d" style="top:1036.8px;left:1568.4px;width:190.4px;text-align:right;">0.00</div>
<div class="d" style="top:1036.8px;left:1764px;width:191.2px;text-align:right;">0.00</div>
<div class="d" style="top:1036.8px;left:1958.8px;width:181.6px;text-align:right;">100.00</div>
<div class="d" style="top:1036.8px;left:2151.2px;width:37.2px;text-align:center;">1</div>
<div style="left:1220px;top:1069.4px;width:19.12px;height:21.4px;background:#5fbf7d;"></div>
<div style="left:1394.8px;top:1069.4px;width:48.96px;height:21.4px;background:#dc148c;"></div>
<div style="left:1572.8px;top:1069.4px;width:182.32px;height:21.4px;background:#ffb628;"></div>
<div style="left:1764.4px;top:1069.4px;width:7.32px;height:21.4px;background:#ff676b;"></div>
<div style="left:2144.8px;top:1065.2px;width:37.6px;height:28.6px;background:#f8696b;"></div>
<div class="d" style="top:1065.2px;left:25.2px;width:101.2px;text-align:center;">19</div>
<div class="d" style="top:1065.2px;left:130.8px;width:405.2px;text-align:left;">Nonylphenol, Ethoxylated</div>
<div class="d cs" style="top:1065.2px;left:539.2px;width:152.4px;text-align:left;">9016-45-9</div>
<div class="d" style="top:1065.2px;left:691.6px;width:171.6px;text-align:right;">6.71E-01</div>
<div class="d" style="top:1065.2px;left:865.6px;width:173.2px;text-align:right;">2.66E-02</div>
<div class="d" style="top:1065.2px;left:1041.2px;width:176px;text-align:right;">1.94E-04</div>
<div class="d" style="top:1065.2px;left:1219.6px;width:170.8px;text-align:right;">6.98E-01</div>
<div class="d" style="top:1065.2px;left:1392.8px;width:173.2px;text-align:right;">5.11E-01</div>
<div class="d" style="top:1065.2px;left:1568.4px;width:190.4px;text-align:right;">96.16</div>
<div class="d" style="top:1065.2px;left:1764px;width:191.2px;text-align:right;">3.81</div>
<div class="d" style="top:1065.2px;left:1958.8px;width:181.6px;text-align:right;">0.03</div>
<div class="d" style="top:1065.2px;left:2151.2px;width:37.2px;text-align:center;">1</div>
<div style="left:1220px;top:1097.8px;width:19.72px;height:21.4px;background:#5fbf7d;"></div>
<div style="left:1394.8px;top:1097.8px;width:46.64px;height:21.4px;background:#dc148c;"></div>
<div style="left:1961.6px;top:1097.8px;width:180.8px;height:21.4px;background:#5686c6;"></div>
<div style="left:2144.8px;top:1093.6px;width:37.6px;height:28.6px;background:#f8696b;"></div>
<div class="d" style="top:1093.6px;left:25.2px;width:101.2px;text-align:center;">20</div>
<div class="d" style="top:1093.6px;left:130.8px;width:405.2px;text-align:left;">Alkanes, C7-8-Iso-</div>
<div class="d cs" style="top:1093.6px;left:539.2px;width:152.4px;text-align:left;">70024-92-9</div>
<div class="d" style="top:1093.6px;left:691.6px;width:171.6px;text-align:right;">3.92E-08</div>
<div class="d" style="top:1093.6px;left:865.6px;width:173.2px;text-align:right;">1.25E-08</div>
<div class="d" style="top:1093.6px;left:1041.2px;width:176px;text-align:right;">7.19E-01</div>
<div class="d" style="top:1093.6px;left:1219.6px;width:170.8px;text-align:right;">7.19E-01</div>
<div class="d" style="top:1093.6px;left:1392.8px;width:173.2px;text-align:right;">4.87E-01</div>
<div class="d" style="top:1093.6px;left:1568.4px;width:190.4px;text-align:right;">0.00</div>
<div class="d" style="top:1093.6px;left:1764px;width:191.2px;text-align:right;">0.00</div>
<div class="d" style="top:1093.6px;left:1958.8px;width:181.6px;text-align:right;">100.00</div>
<div class="d" style="top:1093.6px;left:2151.2px;width:37.2px;text-align:center;">1</div>
</div></body></html>
